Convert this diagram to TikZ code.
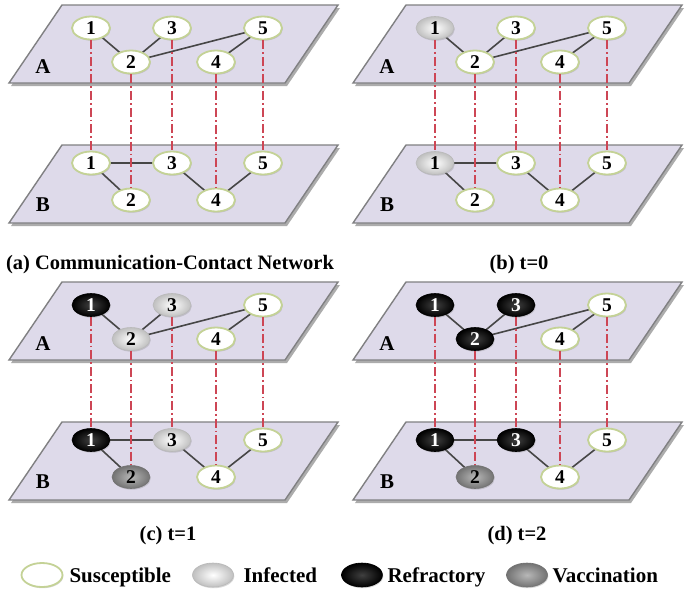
\documentclass[tikz,border=0pt]{standalone}
\usepackage{fontspec}
\setmainfont{Liberation Serif}
\usetikzlibrary{shapes.geometric,shadows}
\definecolor{planecol}{RGB}{222,218,234}
\definecolor{planeedge}{RGB}{128,128,130}
\definecolor{suscol}{RGB}{196,210,150}
\definecolor{linkcol}{RGB}{205,70,85}
\definecolor{edgecol}{RGB}{70,70,70}
\tikzset{
 nd/.style={ellipse, minimum width=38pt, minimum height=23pt, inner sep=0pt,
   font=\fontsize{19.5}{19.5}\selectfont\bfseries,
   drop shadow={opacity=0.3, shadow xshift=0.8pt, shadow yshift=-1.2pt}},
 sus/.style={nd, draw=suscol, line width=1.8pt, fill=white},
 inf/.style={nd, draw=gray!55, line width=0.6pt, inner color=white, outer color=gray!50},
 ref/.style={nd, draw=black, line width=0.6pt, inner color=black!75, outer color=black, text=white},
 vac/.style={nd, draw=black!55, line width=0.6pt, inner color=black!28, outer color=black!55},
 netedge/.style={draw=edgecol, line width=1.6pt},
 interlink/.style={draw=linkcol, line width=1.8pt, dash pattern=on 9pt off 3pt on 1.8pt off 3pt},
 plane/.style={fill=planecol, draw=planeedge, line width=1.4pt, line join=miter},
 planesh/.style={fill=gray!65, draw=none},
 lbl/.style={font=\fontsize{21}{21}\selectfont\bfseries},
 captxt/.style={font=\fontsize{20.5}{22}\selectfont\bfseries, anchor=base},
 legtxt/.style={font=\fontsize{21}{22}\selectfont\bfseries, anchor=base west},
}
\newcommand\drawpanel[5]{%
\begin{scope}[shift={(#2,#3)}]
 \path[planesh] (64,8) -- (340,8) -- (287,86) -- (11,86) -- cycle;
 \path[plane] (62,5) -- (338,5) -- (285,83) -- (9,83) -- cycle;
 \path[planesh] (64,148) -- (340,148) -- (287,226) -- (11,226) -- cycle;
 \path[plane] (62,145) -- (338,145) -- (285,223) -- (9,223) -- cycle;
 \node[lbl] (#1la) at (43,67) {A};
 \node[lbl] (#1lb) at (43,205) {B};
 \coordinate (pA1) at (91,28);
 \coordinate (pA2) at (131,62);
 \coordinate (pA3) at (172,28);
 \coordinate (pA4) at (216,62);
 \coordinate (pA5) at (263,28);
 \coordinate (pB1) at (91,163);
 \coordinate (pB2) at (131,200);
 \coordinate (pB3) at (172,163);
 \coordinate (pB4) at (216,200);
 \coordinate (pB5) at (263,163);
 \draw[netedge] (pA1) -- (pA2);
 \draw[netedge] (pA2) -- (pA3);
 \draw[netedge] (pA2) -- (pA5);
 \draw[netedge] (pA5) -- (pA4);
 \draw[netedge] (pB1) -- (pB3);
 \draw[netedge] (pB1) -- (pB2);
 \draw[netedge] (pB3) -- (pB4);
 \draw[netedge] (pB4) -- (pB5);
 \foreach \st [count=\i] in {#4} {\node[\st] (#1A\i) at (pA\i) {\i};}
 \foreach \st [count=\i] in {#5} {\node[\st] (#1B\i) at (pB\i) {\i};}
 \foreach \i in {1,...,5} {\draw[interlink] (#1A\i.south) -- (#1B\i.north);}
\end{scope}}
\begin{document}
\begin{tikzpicture}[x=1pt,y=-1pt]
\useasboundingbox (0,0) rectangle (685,592);
\fill[white] (0,0) rectangle (685,592);
\drawpanel{a}{0}{0}{sus,sus,sus,sus,sus}{sus,sus,sus,sus,sus}
\drawpanel{b}{344}{0}{inf,sus,sus,sus,sus}{inf,sus,sus,sus,sus}
\drawpanel{c}{0}{277}{ref,inf,inf,sus,sus}{ref,vac,inf,sus,sus}
\drawpanel{d}{344}{277}{ref,ref,ref,sus,sus}{ref,vac,ref,sus,sus}
\node[captxt] (capa) at (170,269) {(a) Communication-Contact Network};
\node[captxt] (capb) at (519,269) {(b) t=0};
\node[captxt] (capc) at (168,540) {(c) t=1};
\node[captxt] (capd) at (517,540) {(d) t=2};
\node[sus, minimum width=41pt, minimum height=24pt] (lg1) at (42,575) {};
\node[legtxt] (lt1) at (66,582) {Susceptible};
\node[inf, minimum width=41pt, minimum height=24pt] (lg2) at (213,575) {};
\node[legtxt] (lt2) at (240,582) {Infected};
\node[ref, minimum width=41pt, minimum height=24pt] (lg3) at (362,575) {};
\node[legtxt] (lt3) at (384,582) {Refractory};
\node[vac, minimum width=41pt, minimum height=24pt] (lg4) at (527,575) {};
\node[legtxt] (lt4) at (549,582) {Vaccination};
\end{tikzpicture}
\end{document}
